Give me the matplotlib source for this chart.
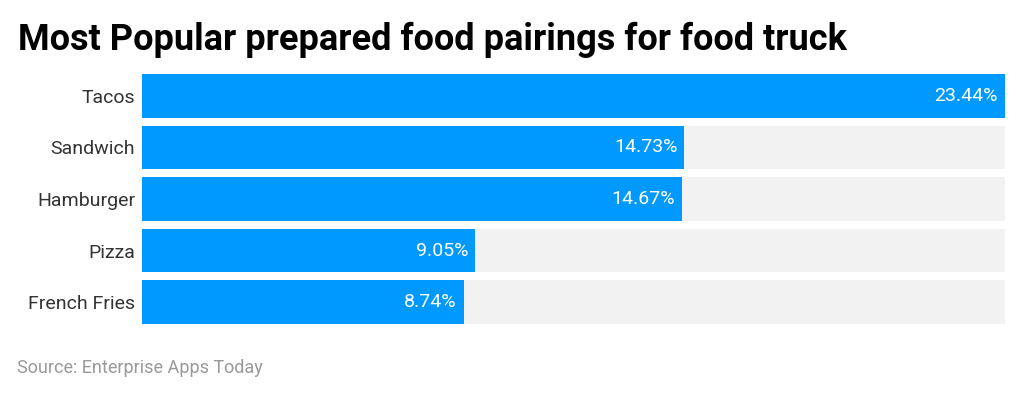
import matplotlib.pyplot as plt

plt.rcParams['font.family'] = ['Roboto', 'DejaVu Sans']

categories = ['Tacos', 'Sandwich', 'Hamburger', 'Pizza', 'French Fries']
values = [23.44, 14.73, 14.67, 9.05, 8.74]
labels = ['23.44%', '14.73%', '14.67%', '9.05%', '8.74%']

fig = plt.figure(figsize=(10.24, 3.95), dpi=100)
ax = fig.add_axes([142 / 1024, 1 - 324 / 395, 863 / 1024, 250 / 395])

pos = range(len(categories))
h = 0.854
xmax = max(values)
ax.barh(pos, [xmax] * len(values), height=h, color='#f2f2f2')
ax.barh(pos, values, height=h, color='#0099ff')
for i, (v, t) in enumerate(zip(values, labels)):
    ax.text(v - xmax * 0.008, i, t, ha='right', va='center', color='white', fontsize=14)

ax.set_xlim(0, xmax)
ax.set_ylim(len(values) - 1 + h / 2, -h / 2)
ax.set_yticks(list(pos))
ax.set_yticklabels(categories, fontsize=14, color='#333333')
ax.tick_params(axis='y', length=0, pad=5)
ax.set_xticks([])
for s in ax.spines.values():
    s.set_visible(False)

fig.text(18 / 1024, 1 - 50 / 395, 'Most Popular prepared food pairings for food truck',
         fontsize=26, fontweight='bold', color='black', ha='left', va='baseline')
fig.text(17 / 1024, 1 - 373 / 395, 'Source: Enterprise Apps Today',
         fontsize=13, color='#999999', ha='left', va='baseline')

fig.savefig('out.png', dpi=100)
